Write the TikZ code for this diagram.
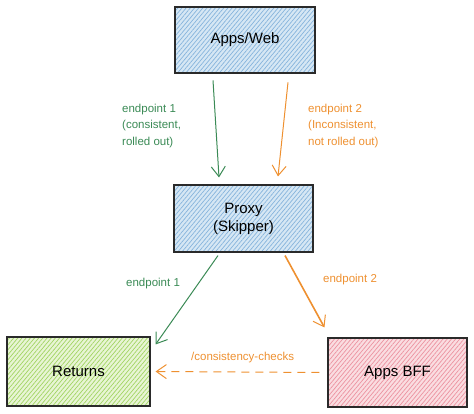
\documentclass[tikz,border=0pt]{standalone}
\usepackage{fontspec}
\setmainfont{Liberation Sans}
\usetikzlibrary{arrows.meta,calc,patterns.meta}
\definecolor{bluefill}{HTML}{D6E7F4}
\definecolor{bluehatch}{HTML}{86B4DC}
\definecolor{greenfill}{HTML}{E8F5D4}
\definecolor{greenhatch}{HTML}{A2D463}
\definecolor{redfill}{HTML}{FADDE1}
\definecolor{redhatch}{HTML}{EC93A0}
\definecolor{garrow}{HTML}{3A8A55}
\definecolor{oarrow}{HTML}{EE9030}
\definecolor{boxline}{HTML}{2A2A2A}
\tikzset{
  box/.style={draw=boxline, line width=1.1pt, inner sep=0pt, font=\fontsize{15}{18}\selectfont, align=center},
  bluebox/.style={box, preaction={fill=bluefill}, pattern={Lines[angle=50,distance=3.2pt,line width=0.7pt]}, pattern color=bluehatch},
  greenbox/.style={box, preaction={fill=greenfill}, pattern={Lines[angle=50,distance=3.2pt,line width=0.7pt]}, pattern color=greenhatch},
  redbox/.style={box, preaction={fill=redfill}, pattern={Lines[angle=50,distance=3.2pt,line width=0.7pt]}, pattern color=redhatch},
  tip/.style={-{Straight Barb[length=10pt,width=14pt,line width=1pt]}},
  garr/.style={tip, draw=garrow, line width=1pt},
  oarr/.style={tip, draw=oarrow, line width=1pt},
  lbl/.style={font=\fontsize{11.5}{16.5}\selectfont, align=left, inner sep=0pt},
}
\begin{document}
\begin{tikzpicture}[x=1pt,y=-1pt]
\useasboundingbox (0,0) rectangle (474,414);
\node[bluebox, minimum width=140pt, minimum height=66pt] (web) at (245,40) {Apps/Web};
\node[bluebox, minimum width=139pt, minimum height=67pt] (proxy) at (243.5,218.5) {Proxy\\(Skipper)};
\node[greenbox, minimum width=143pt, minimum height=69pt] (ret) at (78.5,371.5) {Returns};
\node[redbox, minimum width=139pt, minimum height=69pt] (bff) at (397.5,372.5) {Apps BFF};

\draw[garr] ($(web.south)+(-32,7)$) -- ($(proxy.north)+(-24.5,-7)$);
\draw[oarr] ($(web.south)+(43,9)$) -- ($(proxy.north)+(34.5,-8)$);
\draw[garr] ($(proxy.south)+(-25.5,3)$) -- ($(ret.north east)+(5,8)$);
\draw[oarr, line width=1.6pt] ($(proxy.south)+(41.5,3)$) -- ($(bff.north west)+(-3,-10)$);
\draw[oarr, dashed, dash pattern=on 8pt off 6pt] ($(bff.west)+(-8,0)$) -- ($(ret.east)+(5,0)$);

\node[lbl, text=garrow, anchor=west] (l1) at (122,126) {endpoint 1\\(consistent,\\rolled out)};
\node[lbl, text=oarrow, anchor=west] (l2) at (308,126) {endpoint 2\\(Inconsistent,\\not rolled out)};
\node[lbl, text=garrow, anchor=west] (l3) at (126,284) {endpoint 1};
\node[lbl, text=oarrow, anchor=west] (l4) at (323,280) {endpoint 2};
\node[lbl, text=oarrow, anchor=west] (l5) at (191,358) {/consistency-checks};
\end{tikzpicture}
\end{document}
